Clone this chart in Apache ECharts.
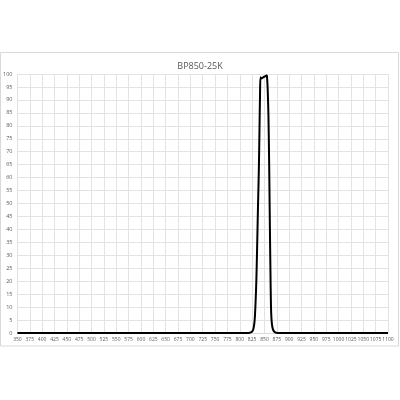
<!DOCTYPE html>
<html>
<head>
<meta charset="utf-8">
<script src="https://cdn.jsdelivr.net/npm/echarts@6/dist/echarts.min.js"></script>
<style>html,body{margin:0;padding:0;background:#fff}#c{width:400px;height:400px}</style>
</head>
<body>
<div id="c"></div>
<script>
var titleText = 'BP850-25K';
var wavelength = [350, 800, 815, 820, 824, 827, 829, 830.5, 832, 833.5, 835, 837, 838.6, 840, 841, 842, 844, 846, 848, 850, 852, 854, 855, 856.5, 858, 859.5, 861, 862.5, 863.5, 865, 867, 870, 874, 880, 1100];
var transmission = [0, 0, 0, 0.1, 0.4, 1.2, 3, 6, 12, 20, 32, 50, 63, 80, 92, 98.7, 98.3, 98.5, 98.8, 99, 99.2, 99.4, 99.2, 94, 84, 65, 40, 18, 8, 3.5, 1.5, 0.5, 0.1, 0, 0];
var xMin = 350, xMax = 1100, xStep = 25;
var yMin = 0, yMax = 100, yStep = 5;

var pts = wavelength.map(function (w, i) { return [w, transmission[i]]; });
var chart = echarts.init(document.getElementById('c'));
chart.setOption({
  animation: false,
  graphic: [{
    type: 'rect', shape: {x: 0.5, y: 52.5, width: 398, height: 293.5},
    style: {fill: 'none', stroke: '#d9d9d9', lineWidth: 1}, silent: true
  }],
  title: {
    text: titleText, left: 'center', top: 57,
    textStyle: {fontSize: 9, fontWeight: 'normal', color: '#595959', fontFamily: 'Open Sans'}
  },
  grid: {left: 17, right: 12, top: 74, bottom: 67},
  xAxis: {
    type: 'value', min: xMin, max: xMax, interval: xStep,
    axisLine: {show: true, lineStyle: {color: '#d9d9d9'}},
    axisTick: {show: false},
    splitLine: {show: true, lineStyle: {color: '#e3e3e3', width: 1}},
    axisLabel: {fontSize: 5, color: '#595959', margin: 4, fontFamily: 'Open Sans', showMinLabel: true, showMaxLabel: true,
      hideOverlap: false, interval: 0,
      formatter: function (v) { return String(v); }}
  },
  yAxis: {
    type: 'value', min: yMin, max: yMax, interval: yStep,
    axisLine: {show: false}, axisTick: {show: false},
    splitLine: {show: true, lineStyle: {color: '#e3e3e3', width: 1}},
    axisLabel: {fontSize: 5.5, color: '#595959', margin: 5, fontFamily: 'Open Sans',
      formatter: function (v) { return String(v); }}
  },
  series: [{
    type: 'line', data: pts, showSymbol: false, smooth: 0.3,
    lineStyle: {color: '#000', width: 2}
  }]
});
</script>
</body>
</html>
